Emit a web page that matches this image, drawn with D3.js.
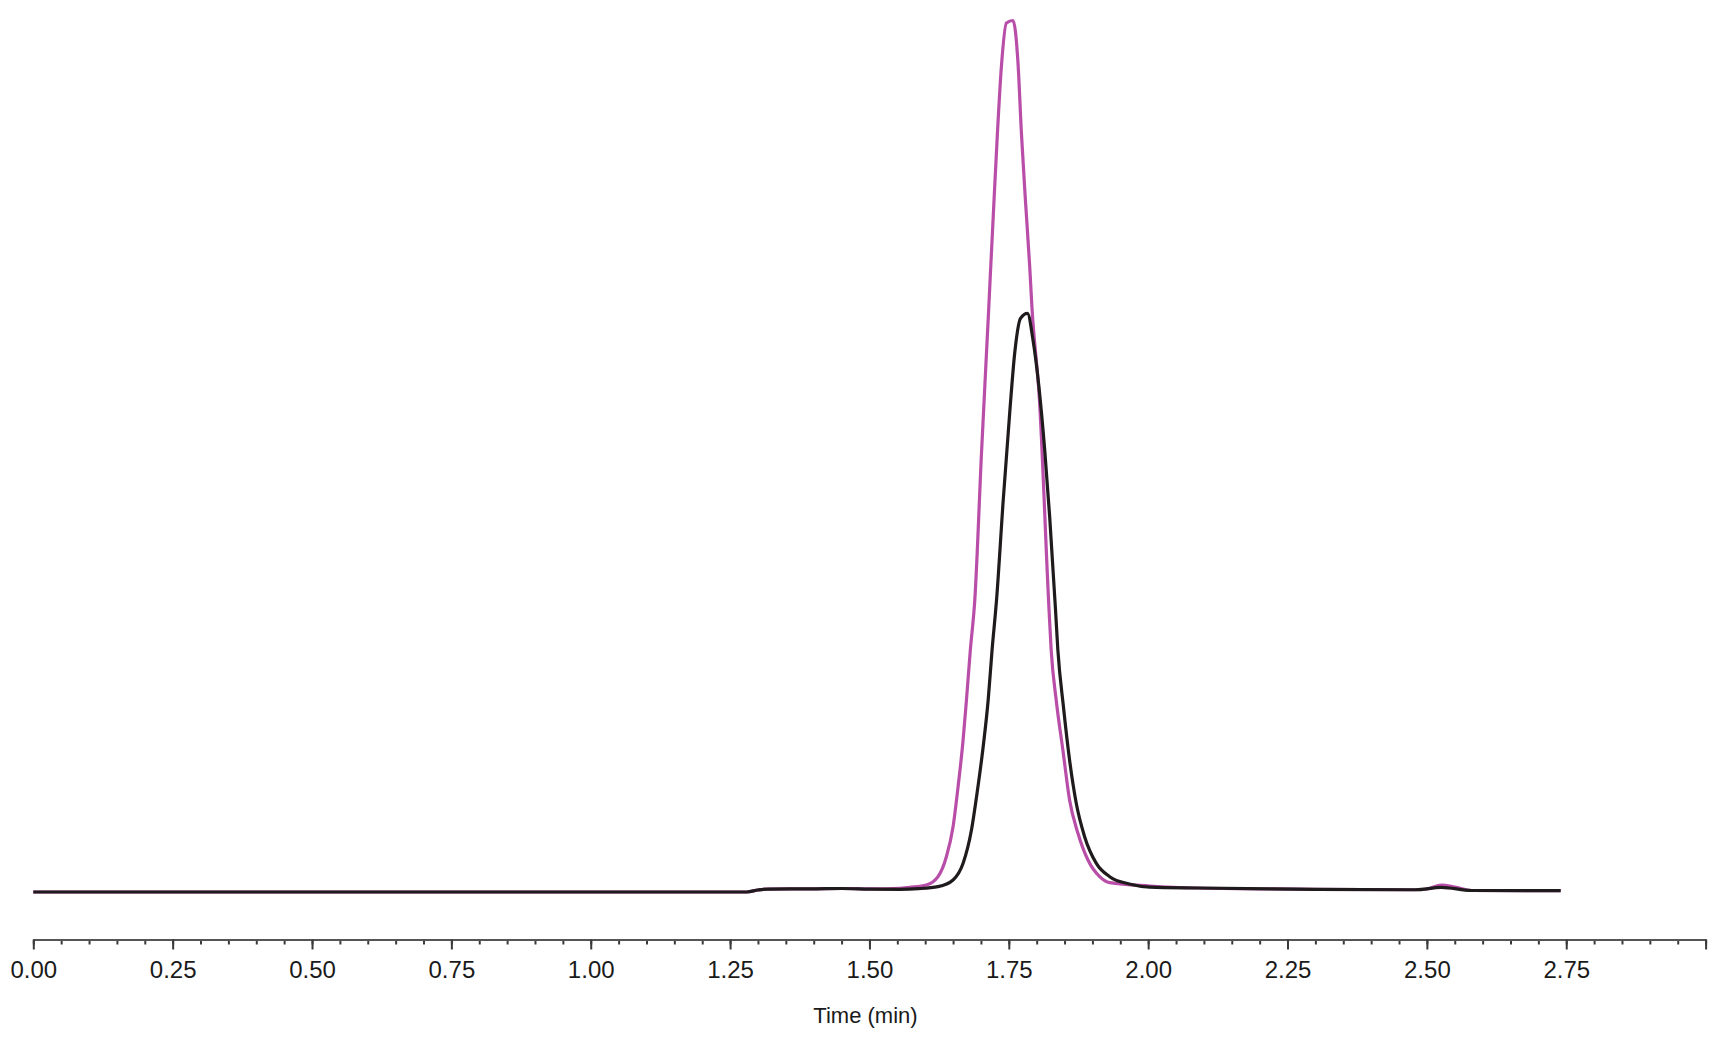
<!DOCTYPE html>
<html lang="en">
<head>
  <meta charset="UTF-8">
  <title>Chromatogram overlay</title>
  <script src="https://d3js.org/d3.v7.min.js"></script>
  <style>
    body {
      margin: 0;
      background: #fff;
    }
    svg {
      display: block;
      font-family: "Liberation Sans", Arial, sans-serif;
    }
  </style>
</head>
<body>
  <div id="chart"></div>

  <script>
    // retention time (min) and signal (arbitrary units)
    const magentaTime = [0.00, 1.28, 1.30, 1.318, 1.40, 1.45, 1.50, 1.554, 1.572, 1.602, 1.623, 1.638, 1.650,
      1.659, 1.668, 1.674, 1.681, 1.689, 1.701, 1.714, 1.7176, 1.7235, 1.7296, 1.7367, 1.7457, 1.7575,
      1.7665, 1.7726, 1.7798, 1.7875, 1.7916, 1.805, 1.822, 1.826, 1.835, 1.847, 1.859, 1.874, 1.892,
      1.913, 1.931, 2.003, 2.09, 2.30, 2.48, 2.50, 2.526, 2.55, 2.58, 2.74];
    const magentaSignal = [0.00, 0.00, 0.23, 0.34, 0.36, 0.40, 0.36, 0.42, 0.54, 0.80, 1.76, 4.05, 7.49,
      12.08, 17.44, 22.03, 27.77, 33.51, 50.37, 67.0, 71.75, 79.4, 87.1, 94.7, 99.7, 100.0,
      95.1, 87.1, 79.4, 71.75, 67.0, 56.45, 32.59, 27.77, 22.03, 16.29, 10.56, 6.74, 3.67,
      1.76, 1.07, 0.69, 0.46, 0.31, 0.26, 0.34, 0.80, 0.57, 0.17, 0.15];

    const blackTime = [0.00, 1.28, 1.30, 1.318, 1.40, 1.45, 1.50, 1.554, 1.588, 1.623, 1.650, 1.668, 1.683,
      1.693, 1.704, 1.713, 1.720, 1.728, 1.740, 1.752, 1.7606, 1.771, 1.7834, 1.7934, 1.804, 1.8144,
      1.8233, 1.8336, 1.838, 1.848, 1.859, 1.871, 1.886, 1.907, 1.931, 1.966, 2.003, 2.09, 2.30, 2.48,
      2.526, 2.58, 2.74];
    const blackSignal = [0.00, 0.00, 0.23, 0.34, 0.36, 0.40, 0.34, 0.31, 0.38, 0.61, 1.38, 3.29, 7.11,
      11.33, 16.67, 22.03, 27.77, 33.51, 44.98, 55.31, 61.85, 65.83, 66.40, 63.34, 57.98, 50.72,
      43.06, 32.59, 27.77, 21.26, 15.15, 10.18, 6.35, 3.29, 1.76, 0.92, 0.57, 0.46, 0.31, 0.26,
      0.53, 0.17, 0.15];

    const majorTicks = [0, 0.25, 0.5, 0.75, 1.0, 1.25, 1.5, 1.75, 2.0, 2.25, 2.5, 2.75, 3.0];
    const tickLabels = ["0.00", "0.25", "0.50", "0.75", "1.00", "1.25", "1.50", "1.75", "2.00", "2.25", "2.50", "2.75", ""];
    const minorTicks = d3.range(0, 61).map(i => i / 20);
    const axisTitle = "Time (min)";

    const width = 1721;
    const height = 1038;

    const svg = d3.select("#chart")
      .append("svg")
      .attr("width", width)
      .attr("height", height);

    const x = d3.scaleLinear().domain([0, 3]).range([33.3, 1705.6]);
    const y = d3.scaleLinear().domain([0, 100]).range([892, 20.5]);
    const axisY = 939.5;

    const line = d3.line()
      .x(d => x(d[0]))
      .y(d => y(d[1]))
      .curve(d3.curveMonotoneX);

    const series = [
      { color: "#b94ea9", pts: d3.zip(magentaTime, magentaSignal) },
      { color: "#1f1a1c", pts: d3.zip(blackTime, blackSignal) }
    ];

    svg.selectAll("path.trace")
      .data(series)
      .enter()
      .append("path")
      .attr("class", "trace")
      .attr("d", d => line(d.pts))
      .attr("fill", "none")
      .attr("stroke", d => d.color)
      .attr("stroke-width", 3.2)
      .attr("stroke-linejoin", "miter");

    // minor ticks
    svg.append("g")
      .attr("transform", `translate(0,${axisY})`)
      .call(d3.axisBottom(x).tickValues(minorTicks).tickSize(5).tickSizeOuter(0).tickFormat(""))
      .call(g => g.select(".domain").remove())
      .call(g => g.selectAll("line").attr("stroke", "#3a3a3a").attr("stroke-width", 2));

    // major ticks + labels
    const gx = svg.append("g")
      .attr("transform", `translate(0,${axisY})`)
      .call(d3.axisBottom(x).tickValues(majorTicks).tickSize(10).tickSizeOuter(0)
        .tickFormat((d, i) => tickLabels[i]));

    gx.select(".domain").attr("stroke", "#555").attr("stroke-width", 2.2);
    gx.selectAll("line").attr("stroke", "#3a3a3a").attr("stroke-width", 2);
    gx.selectAll("text")
      .attr("y", 38)
      .attr("dy", 0)
      .attr("fill", "#1a1a1a")
      .style("font-size", "24px")
      .style("font-family", "'Liberation Sans', Arial, sans-serif");

    svg.append("text")
      .attr("x", x(1.5) - 4)
      .attr("y", 1022.5)
      .attr("text-anchor", "middle")
      .attr("fill", "#1a1a1a")
      .style("font-size", "22px")
      .style("font-family", "'Liberation Sans', Arial, sans-serif")
      .text(axisTitle);
  </script>
</body>
</html>
